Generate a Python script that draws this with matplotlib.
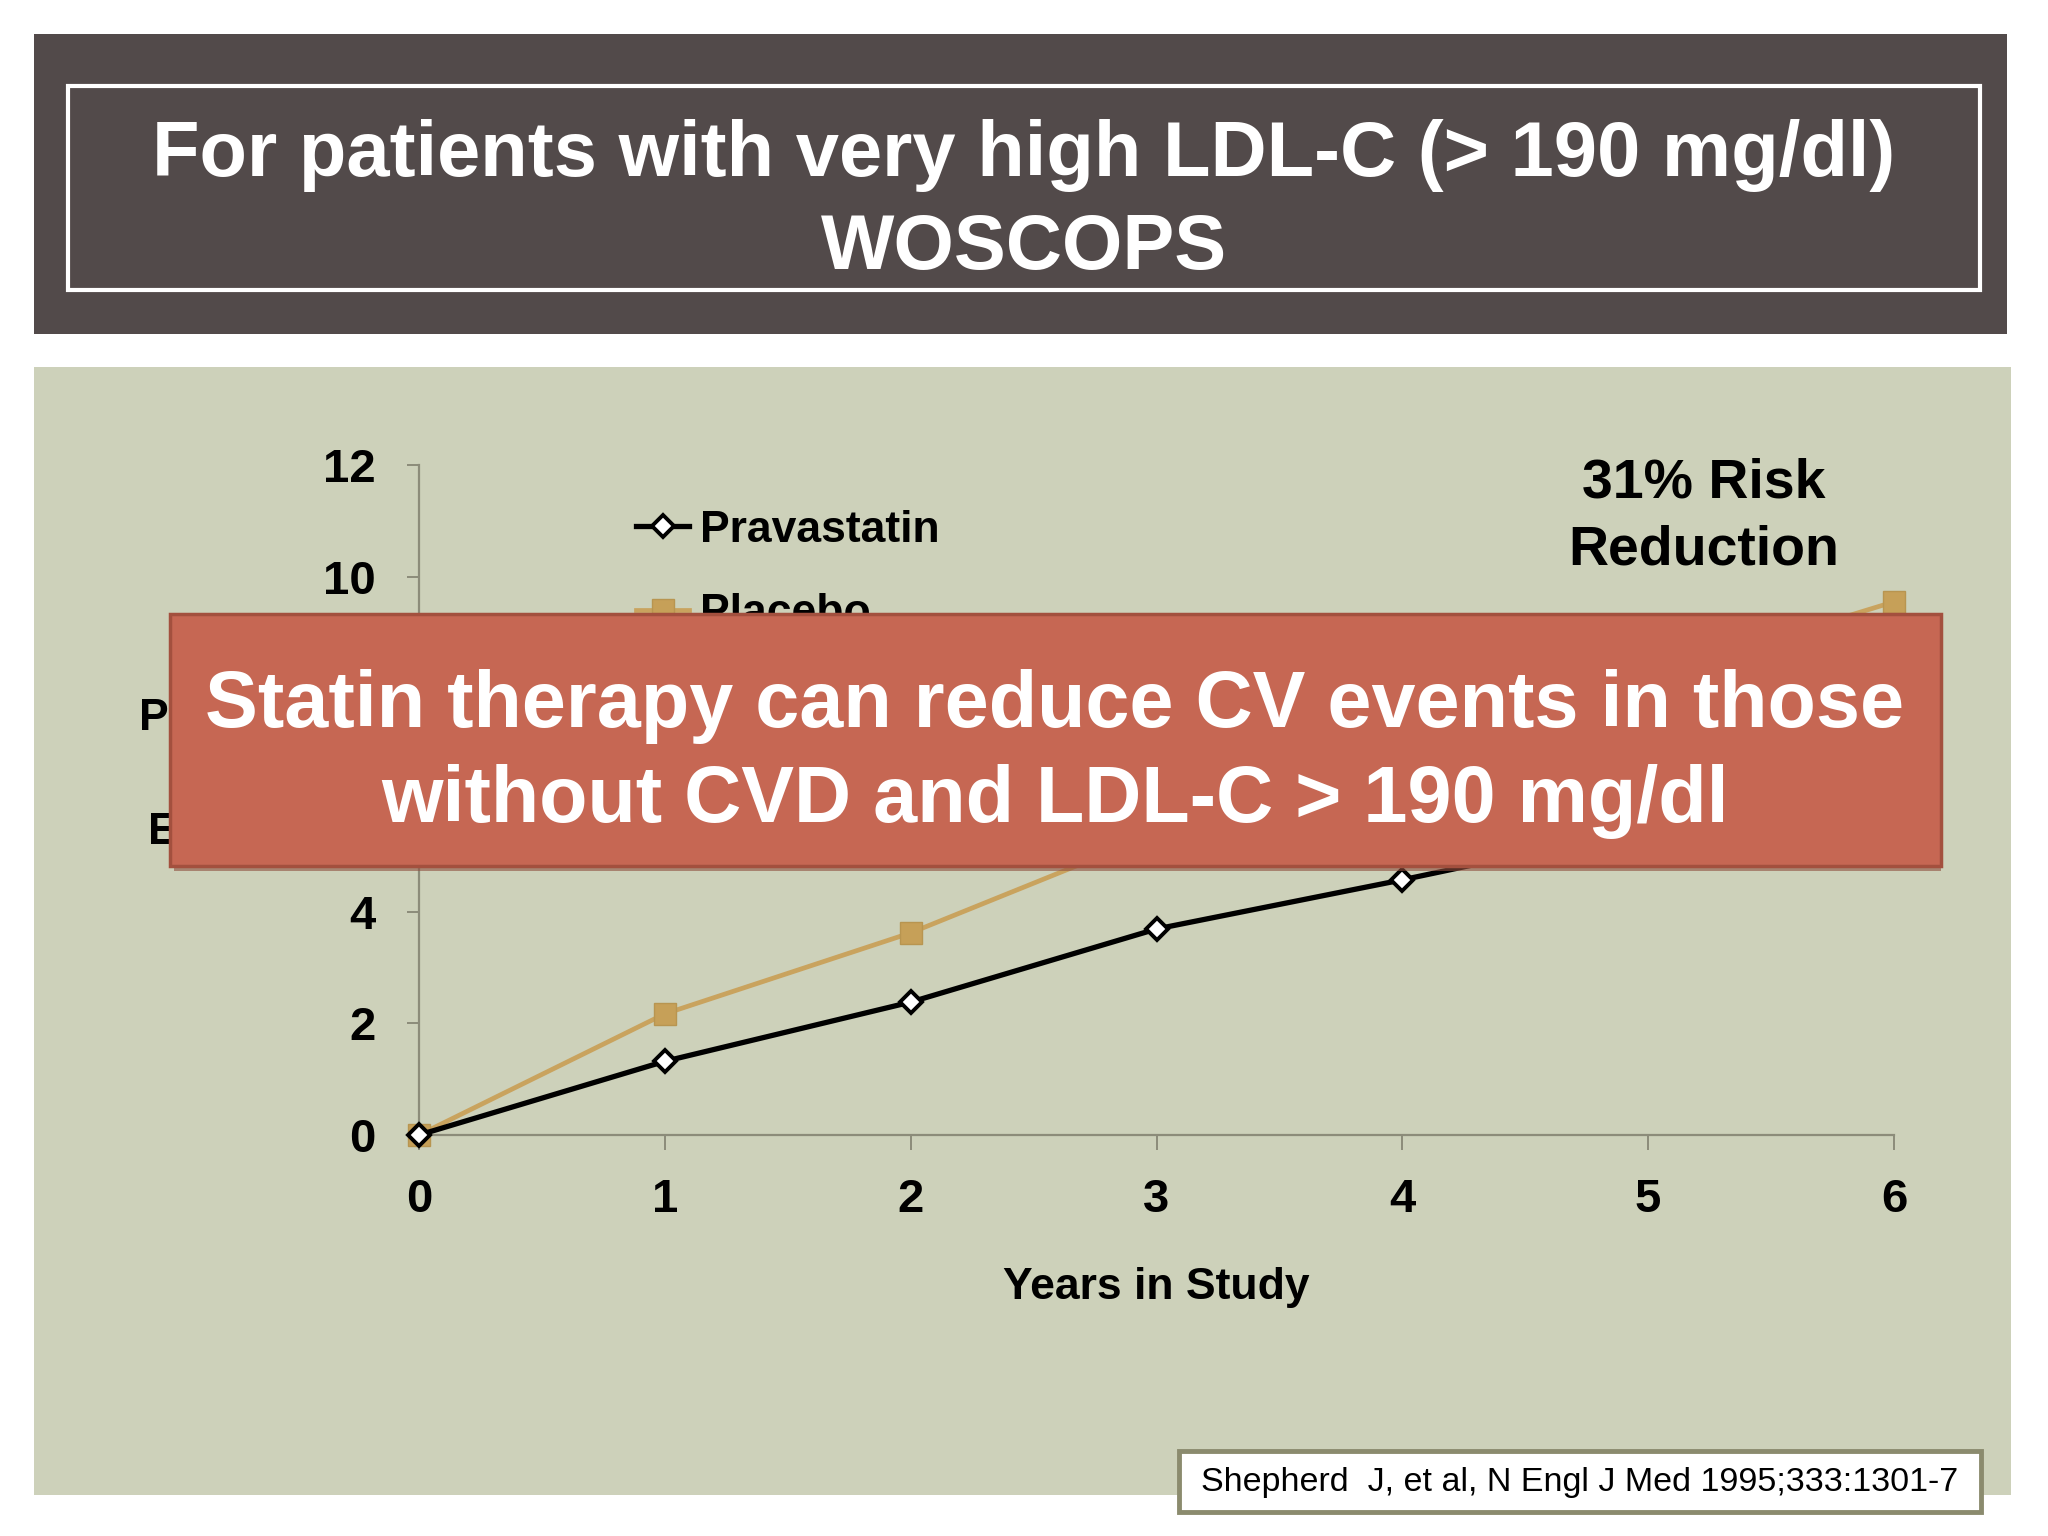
import matplotlib
matplotlib.use("Agg")
import matplotlib.pyplot as plt
from matplotlib.patches import Rectangle

# ---- data ----
years = [0, 1, 2, 3, 4, 5, 6]
pravastatin = [0, 1.32, 2.38, 3.69, 4.57, 5.5, 6.6]
placebo = [0, 2.17, 3.62, 5.4, 6.9, 8.2, 9.55]
series_names = ["Pravastatin", "Placebo"]
y_ticks = [0, 2, 4, 6, 8, 10, 12]
x_ticks = [0, 1, 2, 3, 4, 5, 6]

title_lines = "For patients with very high LDL-C (> 190 mg/dl)\nWOSCOPS"
overlay_text = "Statin therapy can reduce CV events in those\nwithout CVD and LDL-C > 190 mg/dl"
risk_text = "31% Risk\nReduction"
x_label = "Years in Study"
y_label = "Percent\nwith\nEvents"
citation = "Shepherd  J, et al, N Engl J Med 1995;333:1301-7"

W, H = 2048, 1536
plt.rcParams['font.family'] = ['Liberation Sans', 'DejaVu Sans']

fig = plt.figure(figsize=(W / 100, H / 100), dpi=100)
fig.patch.set_facecolor("white")

def fx(px):
    return px / W

def fy(py):
    return 1 - py / H

# background axes in pixel coords
bg = fig.add_axes([0, 0, 1, 1], zorder=0)
bg.set_xlim(0, W)
bg.set_ylim(H, 0)
bg.axis("off")

DARK = "#524a4a"
GREEN = "#cdd1ba"
bg.add_patch(Rectangle((34, 34), 2007 - 34, 334 - 34, facecolor=DARK, edgecolor="none"))
bg.add_patch(Rectangle((68, 86), 1980 - 68, 290 - 86, facecolor="none", edgecolor="white", linewidth=3))
bg.text(1024, 202, title_lines, ha="center", va="center", color="white",
        fontsize=56, fontweight="bold", linespacing=1.34)
bg.add_patch(Rectangle((34, 367), 2011 - 34, 1495 - 367, facecolor=GREEN, edgecolor="none"))

# chart axes
x0, x1 = 419, 1894
y0, y1 = 1135, 465
ax = fig.add_axes([fx(x0), fy(y0), fx(x1) - fx(x0), fy(y1) - fy(y0)], zorder=1)
ax.set_facecolor("none")
AXC = "#8c8c7a"
for s in ["top", "right"]:
    ax.spines[s].set_visible(False)
for s in ["left", "bottom"]:
    ax.spines[s].set_color(AXC)
    ax.spines[s].set_linewidth(1.6)
ax.set_xlim(0, 6)
ax.set_ylim(0, 12)
ax.set_xticks(x_ticks)
ax.set_yticks(y_ticks)
ax.tick_params(axis="y", direction="out", length=9, width=1.4, color=AXC, pad=22,
               labelsize=34)
ax.tick_params(axis="x", direction="out", length=11, width=1.4, color=AXC, pad=20,
               labelsize=34)
for lbl in ax.get_xticklabels() + ax.get_yticklabels():
    lbl.set_fontweight("bold")

ax.plot(years, placebo, color="#c9a35e", linewidth=3.4, marker="s", markersize=16,
        markerfacecolor="#c6a058", markeredgecolor="#b89550", markeredgewidth=1,
        clip_on=False, label=series_names[1], zorder=3)
ax.plot(years, pravastatin, color="black", linewidth=3.8, marker="D", markersize=11,
        markerfacecolor="white", markeredgecolor="black", markeredgewidth=2.8,
        clip_on=False, label=series_names[0], zorder=4)

handles, labels = ax.get_legend_handles_labels()
leg = ax.legend(handles[::-1], labels[::-1], loc="upper left",
                bbox_to_anchor=(fx(636), fy(510)), bbox_transform=fig.transFigure,
                frameon=False, fontsize=32, handlelength=1.2, handletextpad=0.25,
                labelspacing=0.95, borderpad=0, borderaxespad=0)
for t in leg.get_texts():
    t.set_fontweight("bold")

ax.set_xlabel(x_label, fontsize=32, fontweight="bold", labelpad=32)

bg.text(221, 776, y_label, ha="center", va="center", fontsize=32,
        fontweight="bold", linespacing=1.5, color="black")
bg.text(1704, 517, risk_text, ha="center", va="center", fontsize=40,
        fontweight="bold", linespacing=1.39, color="black")

# overlay axes
ov = fig.add_axes([0, 0, 1, 1], zorder=3)
ov.set_xlim(0, W)
ov.set_ylim(H, 0)
ov.axis("off")
ov.patch.set_alpha(0)
ov.add_patch(Rectangle((174, 618), 1941 - 174, 871 - 618, facecolor="#8f5040",
                       edgecolor="none", alpha=0.6))
ov.add_patch(Rectangle((170, 614), 1941 - 170, 866 - 614, facecolor="#c66753",
                       edgecolor="#a3503e", linewidth=2.5))
ov.text(1055, 754, overlay_text, ha="center", va="center", color="white",
        fontsize=57, fontweight="bold", linespacing=1.35)

ov.add_patch(Rectangle((1179, 1451), 1981 - 1179, 1512 - 1451, facecolor="white",
                       edgecolor="#8b8b6e", linewidth=3.5))
ov.text(1580, 1482, citation, ha="center", va="center", color="black", fontsize=24.5)

fig.savefig("out.png", dpi=100, facecolor="white")
